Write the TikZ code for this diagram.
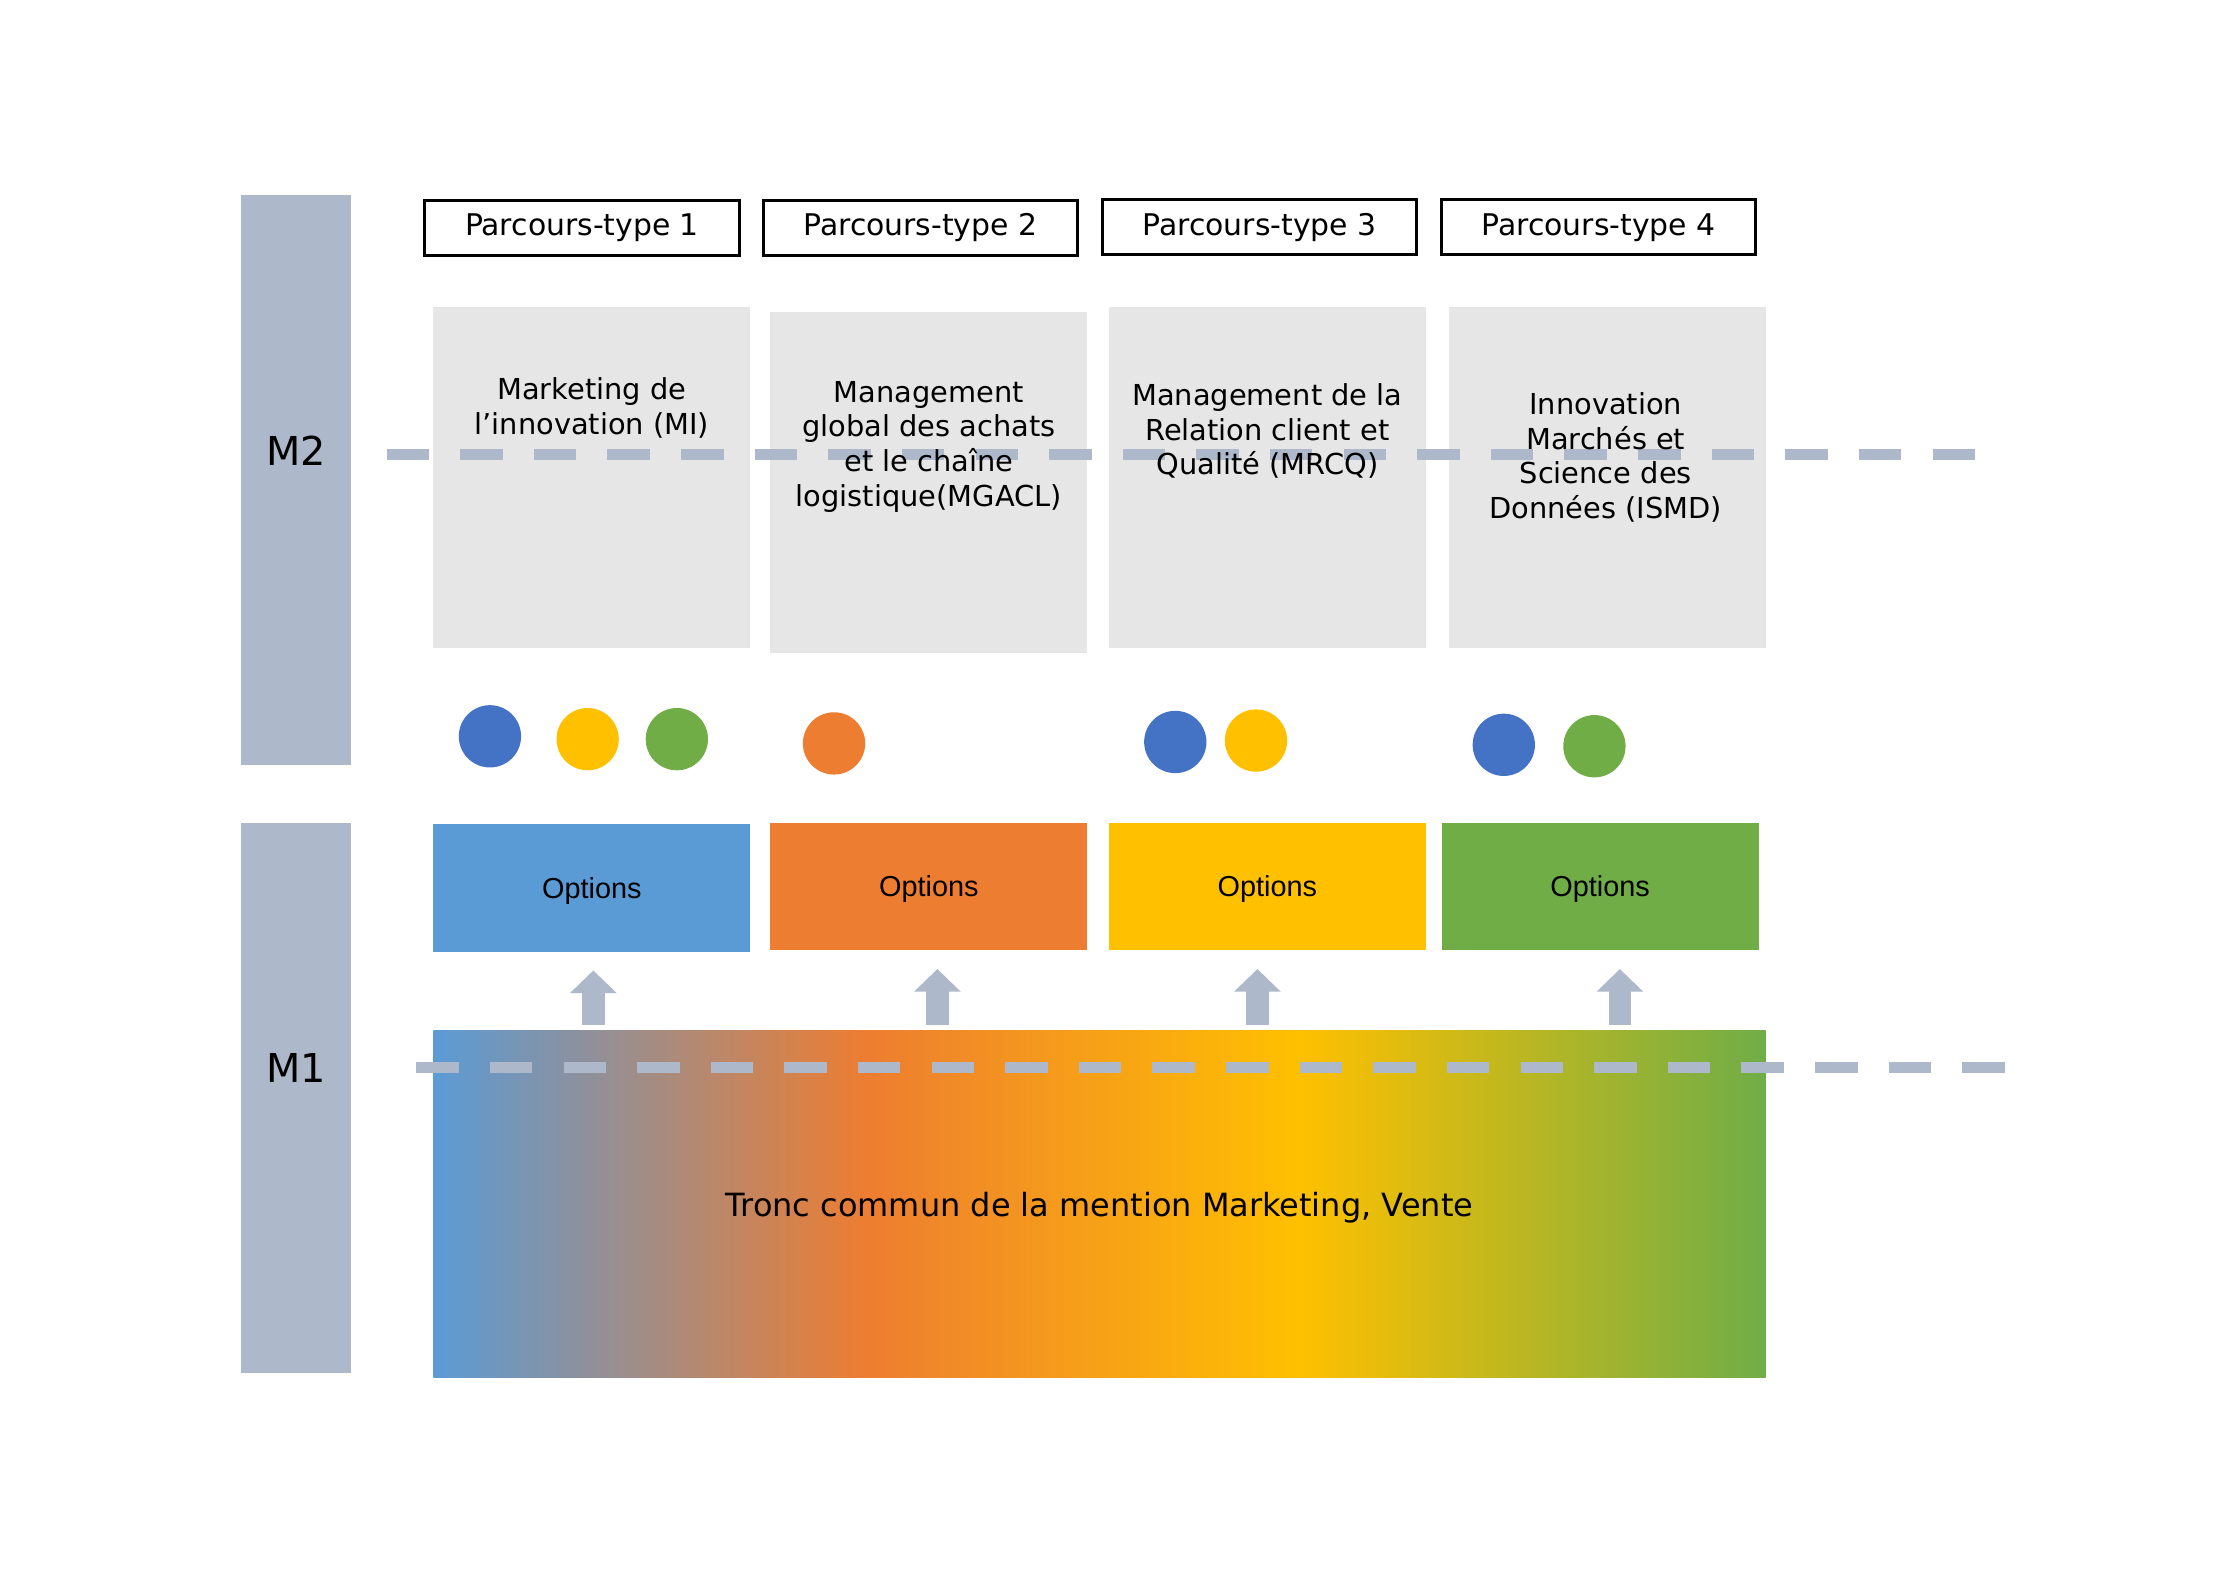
\documentclass[tikz,border=0pt]{standalone}
\usepackage{fontspec}
\setmainfont{DejaVu Sans}
\newfontfamily\optfont{Liberation Sans}
\usetikzlibrary{arrows.meta, calc}
\definecolor{BarGrey}{HTML}{ADB9CA}
\definecolor{BoxGrey}{HTML}{E7E6E6}
\definecolor{CBlue}{HTML}{4472C4}
\definecolor{CSky}{HTML}{5B9BD5}
\definecolor{COrange}{HTML}{ED7D31}
\definecolor{CYellow}{HTML}{FFC000}
\definecolor{CGreen}{HTML}{70AD47}
\pgfdeclarehorizontalshading{tronc}{100bp}{color(0bp)=(CSky); color(25bp)=(CSky); color(41.25bp)=(COrange); color(57.5bp)=(CYellow); color(75bp)=(CGreen); color(100bp)=(CGreen)}
\tikzset{
    levelbar/.style={rectangle, fill=BarGrey, inner sep=0pt, minimum width=1.56cm},
    levellabel/.style={inner sep=0pt, font=\fontsize{16}{19}\selectfont},
    ptype/.style={rectangle, draw=black, fill=white, line width=1.2pt, minimum width=4.44cm, minimum height=0.78cm, inner sep=0pt, font=\fontsize{12}{14}\selectfont},
    track/.style={rectangle, fill=BoxGrey, minimum width=4.48cm, minimum height=4.82cm, inner sep=0pt},
    tracktext/.style={align=center, inner sep=0pt, font=\fontsize{11.6}{13.9}\selectfont},
    optbox/.style={rectangle, minimum width=4.48cm, minimum height=1.8cm, inner sep=0pt, text depth=0pt, font=\optfont\fontsize{11.6}{14}\selectfont},
    pdot/.style={circle, minimum size=0.88cm, inner sep=0pt},
    yearline/.style={draw=BarGrey, line width=0.16cm, dash pattern=on 0.6cm off 0.44cm},
    uparrow/.style={-{Triangle[width=0.64cm, length=0.32cm]}, draw=BarGrey, line width=0.32cm, shorten <=0.08cm, shorten >=0.26cm}
}
\begin{document}
\begin{tikzpicture}[x=0.02cm, y=-0.02cm]
    \useasboundingbox (0,0) rectangle (1567.8,1108);
    % Levels
    \node[levelbar, minimum height=8.04cm] (m2bar) at (209,339) {};
    \node[levelbar, minimum height=7.78cm] (m1bar) at (209,775.5) {};
    \node[levellabel] (m2) at (209,318) {M2};
    \node[levellabel] (m1) at (209,754) {M1};

    % Parcours-type headers
    \node[ptype] (pt1) at (411,161) {Parcours-type 1};
    \node[ptype] (pt2) at (650,161) {Parcours-type 2};
    \node[ptype] (pt3) at (889.5,160.5) {Parcours-type 3};
    \node[ptype] (pt4) at (1129,160.5) {Parcours-type 4};

    % M2 tracks
    \node[track] (tr1) at (418,337.5) {};
    \node[track] (tr2) at (656,340.5) {};
    \node[track] (tr3) at (895,337.5) {};
    \node[track] (tr4) at (1135,337.5) {};
    \coordinate (m2start) at (273,321);
    \coordinate (m2end) at (1395,321);
    \draw[yearline] (m2start) -- (m2end);
    \node[tracktext] (tx1) at (418,288) {Marketing de\\l’innovation (MI)};
    \node[tracktext] (tx2) at (656,315.5) {Management\\global des achats\\et le chaîne\\logistique(MGACL)};
    \node[tracktext] (tx3) at (895,304.5) {Management de la\\Relation client et\\Qualité (MRCQ)};
    \node[tracktext] (tx4) at (1134,323) {Innovation\\Marchés et\\Science des\\Données (ISMD)};

    % Dots
    \node[pdot, fill=CBlue] (d11) at (346,520) {};
    \node[pdot, fill=CYellow] (d12) at (415,522) {};
    \node[pdot, fill=CGreen] (d13) at (478,522) {};
    \node[pdot, fill=COrange] (d21) at (589,525) {};
    \node[pdot, fill=CBlue] (d31) at (830,524) {};
    \node[pdot, fill=CYellow] (d32) at (887,523) {};
    \node[pdot, fill=CBlue] (d41) at (1062,526) {};
    \node[pdot, fill=CGreen] (d42) at (1126,527) {};

    % Options
    \node[optbox, fill=CSky] (opt1) at (418,627) {Options};
    \node[optbox, fill=COrange] (opt2) at (656,626) {Options};
    \node[optbox, fill=CYellow] (opt3) at (895,626) {Options};
    \node[optbox, fill=CGreen] (opt4) at (1130,626) {Options};

    % Tronc commun
    \node[rectangle, shading=tronc, minimum width=18.82cm, minimum height=4.9cm, inner sep=0pt, text depth=0pt, font=\fontsize{12.85}{15}\selectfont] (tronc) at (776.5,850.5) {Tronc commun de la mention Marketing, Vente};
    \coordinate (m1start) at (294,754);
    \coordinate (m1end) at (1416,754);
    \draw[yearline] (m1start) -- (m1end);

    % Arrows
    \draw[uparrow] ($(opt1.south |- tronc.north)+(1,0)$) -- ($(opt1.south)+(1,0)$);
    \draw[uparrow] ($(opt2.south |- tronc.north)+(6,0)$) -- ($(opt2.south)+(6,0)$);
    \draw[uparrow] ($(opt3.south |- tronc.north)+(-7,0)$) -- ($(opt3.south)+(-7,0)$);
    \draw[uparrow] ($(opt4.south |- tronc.north)+(14,0)$) -- ($(opt4.south)+(14,0)$);
\end{tikzpicture}
\end{document}
